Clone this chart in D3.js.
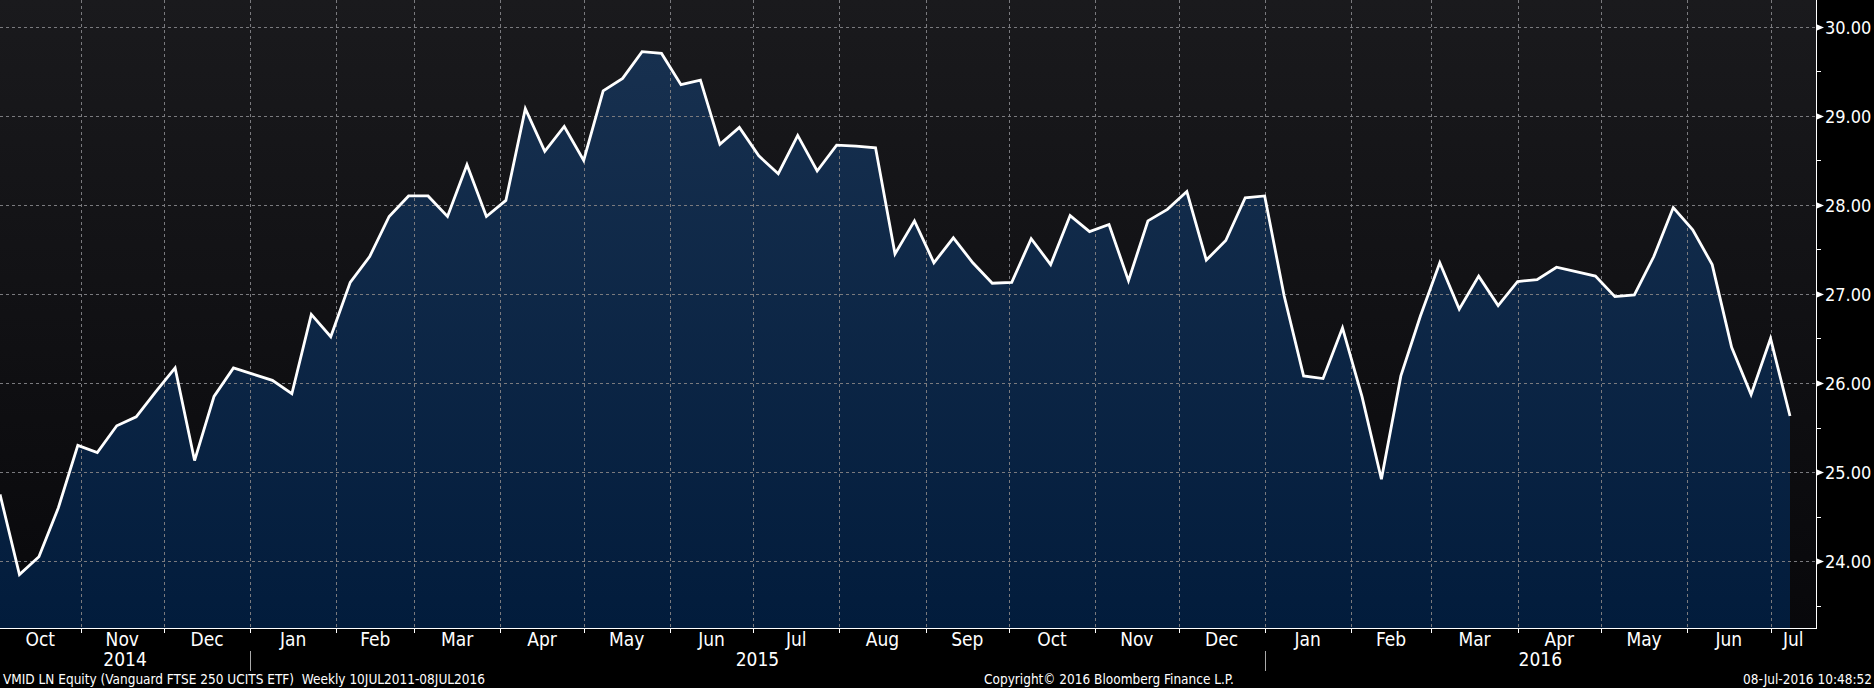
<!DOCTYPE html>
<html><head><meta charset="utf-8">
<script src="https://cdn.jsdelivr.net/npm/d3@7"></script>
<style>
body{margin:0;background:#000;overflow:hidden}
text{font-family:"Liberation Sans Narrow","DejaVu Sans Condensed","Liberation Sans",sans-serif;fill:#fff}
</style></head><body>
<script>
"use strict";
const startDate = new Date(2014, 9, 3);
const prices = [24.75,23.85,24.05,24.6,25.3,25.22,25.52,25.62,25.9,26.17,
  25.13,25.85,26.17,26.1,26.03,25.88,26.77,26.52,27.13,27.42,
  27.87,28.1,28.1,27.87,28.45,27.87,28.05,29.08,28.6,28.88,
  28.5,29.28,29.42,29.72,29.7,29.35,29.4,28.68,28.87,28.55,
  28.35,28.78,28.38,28.67,28.66,28.64,27.45,27.82,27.35,27.63,
  27.35,27.12,27.13,27.62,27.33,27.88,27.7,27.78,27.15,27.82,
  27.95,28.15,27.38,27.6,28.08,28.1,26.98,26.08,26.05,26.62,
  25.85,24.92,26.08,26.75,27.35,26.83,27.2,26.87,27.14,27.16,
  27.3,27.25,27.2,26.97,26.99,27.42,27.97,27.72,27.33,26.4,
  25.87,26.5,25.63];
const yTicks = [24, 25, 26, 27, 28, 29, 30];
const years = [2014, 2015, 2016];
const footerLeft = "VMID LN Equity (Vanguard FTSE 250 UCITS ETF)  Weekly 10JUL2011-08JUL2016";
const footerMid = "Copyright\u00a9 2016 Bloomberg Finance L.P.";
const footerRight = "08-Jul-2016 10:48:52";

const W = 1874, H = 688, plotR = 1816, plotB = 628;
const data = prices.map((v, i) => ({date: d3.timeDay.offset(startDate, i * 7), v}));
const lastDate = data[data.length - 1].date;

const x = d3.scaleTime().domain([startDate, lastDate]).range([0, 1790]);
const y = d3.scaleLinear().domain([23.25, 30.3]).range([plotB, 0]);

const svg = d3.select("body").append("svg").attr("width", W).attr("height", H);
const defs = svg.append("defs");
const bg = defs.append("linearGradient").attr("id", "bg").attr("x1", 0).attr("x2", 0).attr("y1", 0).attr("y2", 1);
bg.append("stop").attr("offset", 0).attr("stop-color", "#1a1a1d");
bg.append("stop").attr("offset", 1).attr("stop-color", "#08080b");
const ag = defs.append("linearGradient").attr("id", "ag").attr("x1", 0).attr("x2", 0).attr("y1", 0).attr("y2", 1);
ag.append("stop").attr("offset", 0).attr("stop-color", "#17304f");
ag.append("stop").attr("offset", 1).attr("stop-color", "#021c3c");

svg.append("rect").attr("width", plotR).attr("height", plotB).attr("fill", "url(#bg)");

svg.append("path").datum(data)
  .attr("fill", "url(#ag)")
  .attr("d", d3.area().x(d => x(d.date)).y0(plotB).y1(d => y(d.v)));

// grid
const months = d3.timeMonth.range(d3.timeMonth.ceil(startDate), lastDate);
const grid = svg.append("g").attr("stroke", "#7a7a7e").attr("stroke-dasharray", "3,3").attr("stroke-width", 1);
months.forEach(m => {
  const gx = Math.round(x(m)) + 0.5;
  grid.append("line").attr("x1", gx).attr("x2", gx).attr("y1", 0).attr("y2", plotB);
});
yTicks.forEach(t => {
  const gy = Math.round(y(t)) + 0.5;
  grid.append("line").attr("x1", 0).attr("x2", plotR).attr("y1", gy).attr("y2", gy);
});

svg.append("path").datum(data)
  .attr("fill", "none").attr("stroke", "#fff").attr("stroke-width", 2.8).attr("stroke-linejoin", "miter")
  .attr("d", d3.line().x(d => x(d.date)).y(d => y(d.v)));

svg.append("line").attr("x1", 0).attr("x2", plotR + 1).attr("y1", plotB + 0.5).attr("y2", plotB + 0.5).attr("stroke", "#fff");
svg.append("line").attr("x1", plotR + 0.5).attr("x2", plotR + 0.5).attr("y1", 0).attr("y2", plotB).attr("stroke", "#fff");

// right axis
const ya = svg.append("g");
d3.range(23.5, 30.3, 0.5).forEach(t => {
  const ty = Math.round(y(t)) + 0.5;
  if (Number.isInteger(t)) {
    ya.append("path").attr("d", `M${plotR + 1},${ty - 3}L${plotR + 8},${ty}L${plotR + 1},${ty + 3}Z`).attr("fill", "#fff");
    ya.append("text").attr("x", plotR + 9).attr("y", ty).attr("dy", "0.36em")
      .attr("font-size", 18).text(d3.format(".2f")(t));
  } else {
    ya.append("line").attr("x1", plotR).attr("x2", plotR + 5).attr("y1", ty).attr("y2", ty).attr("stroke", "#fff");
  }
});

// month labels
const xa = svg.append("g");
const allMonths = [d3.timeMonth.floor(startDate)].concat(months);
allMonths.forEach(m => {
  const a = Math.max(0, x(m)), b = Math.min(plotR, x(d3.timeMonth.offset(m, 1)));
  const mx = Math.round(x(m)) + 0.5;
  if (x(m) > 0) xa.append("line").attr("x1", mx).attr("x2", mx).attr("y1", plotB).attr("y2", plotB + 5).attr("stroke", "#fff");
  xa.append("text").attr("x", (a + b) / 2).attr("y", 646).attr("text-anchor", "middle")
    .attr("font-size", 19).text(d3.timeFormat("%b")(m));
});
years.forEach(yr => {
  const a = Math.max(0, x(new Date(yr, 0, 1))), b = Math.min(plotR, x(new Date(yr + 1, 0, 1)));
  xa.append("text").attr("x", (a + b) / 2).attr("y", 666).attr("text-anchor", "middle")
    .attr("font-size", 19).text(yr);
  if (yr > years[0]) {
    const sx = Math.round(a) + 0.5;
    xa.append("line").attr("x1", sx).attr("x2", sx).attr("y1", 651).attr("y2", 671).attr("stroke", "#aaa");
  }
});

// footer
svg.append("text").attr("x", 3).attr("y", 684).attr("font-size", 13.5).attr("xml:space", "preserve").text(footerLeft);
svg.append("text").attr("x", 984).attr("y", 684).attr("font-size", 13.5).text(footerMid);
svg.append("text").attr("x", W - 2).attr("y", 684).attr("text-anchor", "end").attr("font-size", 13.5).text(footerRight);
</script>
</body></html>
